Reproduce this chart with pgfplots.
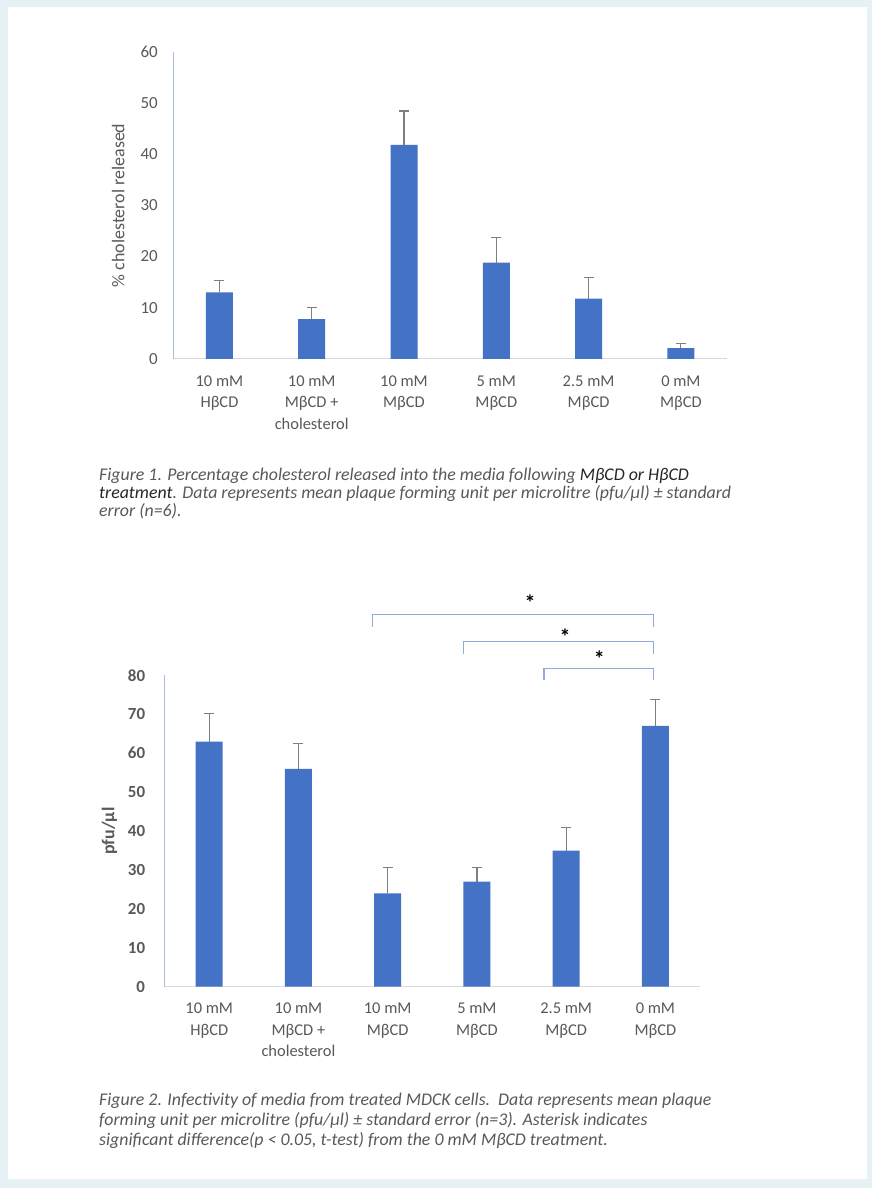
\documentclass[border=0pt]{standalone}
\usepackage{fontspec}
\setmainfont{Carlito}
\usepackage{pgfplots}
\pgfplotsset{compat=1.18}
\definecolor{bgblue}{HTML}{E6F1F5}
\definecolor{barblue}{HTML}{4472C4}
\definecolor{txtgray}{HTML}{595959}
\definecolor{errgray}{HTML}{7F7F7F}
\definecolor{yaxis}{HTML}{A9BCDD}
\definecolor{xaxis}{HTML}{D9D9D9}
\definecolor{brk}{HTML}{8FAADC}
\definecolor{capgray}{HTML}{595959}
\definecolor{capdark}{HTML}{262626}

\pgfplotsset{mybar/.style={
  scale only axis, anchor=south west,
  xmin=-0.5, xmax=5.5, ymin=0,
  axis lines*=left,
  x axis line style={draw=xaxis, line width=1bp},
  y axis line style={draw=yaxis, line width=1bp},
  major tick length=0pt,
  ybar, bar width=27bp,
  xtick={0,...,5},
  xticklabels={{10 mM\\HβCD},{10 mM\\MβCD +\\cholesterol},{10 mM\\MβCD},{5 mM\\MβCD},{2.5 mM\\MβCD},{0 mM\\MβCD}},
  xticklabel style={align=center, font=\fontsize{16.5}{21.5}\selectfont, text=txtgray, yshift=-13bp},
  yticklabel style={font=\fontsize{17}{19}\selectfont, text=txtgray, xshift=-12bp},
  /pgf/number format/assume math mode=true,
  ylabel style={at={(axis description cs:0,0.5)}, anchor=center, yshift=55bp, font=\fontsize{18}{20}\selectfont, text=txtgray},
  clip=false,
  enlargelimits=false,
}}

\pgfplotstableread{
x y e
0 13.0 2.3
1 7.8 2.3
2 41.8 6.6
3 18.8 4.9
4 11.8 4.1
5 2.1 1.0
}\cholesterol

\pgfplotstableread{
x y e
0 63.0 7.3
1 56.0 6.5
2 24.0 6.6
3 27.0 3.6
4 35.0 5.9
5 67.0 6.9
}\pfu

\begin{document}
\begin{tikzpicture}[x=1bp,y=1bp]
\useasboundingbox (0,0) rectangle (872,1188);
\fill[bgblue] (0,0) rectangle (872,1188);
\fill[white] (8,9) rectangle (866.7,1181);

% Figure 1
\begin{axis}[mybar,
  at={(173.3bp,829bp)},
  width=553.7bp, height=307.3bp,
  ymax=60, ytick={0,10,...,60},
  ylabel={\% cholesterol released},
]
\addplot[fill=barblue, draw=none,
  error bars/.cd, y dir=plus, y explicit,
  error bar style={draw=errgray, line width=1.2bp},
  error mark options={rotate=90, mark size=5bp, draw=errgray, line width=1.2bp}]
  table[x=x, y=y, y error=e] {\cholesterol};
\end{axis}

\node[anchor=base west, inner sep=0, font=\fontsize{17.9}{18}\selectfont\itshape, text=capgray] at (99,707)
  {Figure 1. Percentage cholesterol released into the media following \textcolor{capdark}{MβCD or HβCD}};
\node[anchor=base west, inner sep=0, font=\fontsize{17.9}{18}\selectfont\itshape, text=capgray] at (99,689)
  {\textcolor{capdark}{treatment}. Data represents mean plaque forming unit per microlitre (pfu/µl) ± standard};
\node[anchor=base west, inner sep=0, font=\fontsize{17.9}{18}\selectfont\itshape, text=capgray] at (99,671)
  {error (n=6).};

% Figure 2
\begin{axis}[mybar,
  at={(164.6bp,201.3bp)},
  width=535.4bp, height=311.3bp,
  ymax=80, ytick={0,10,...,80},
  yticklabel style={font=\fontsize{17}{19}\selectfont\bfseries, xshift=-4bp},
  ylabel={\textbf{pfu/µl}},
]
\addplot[fill=barblue, draw=none,
  error bars/.cd, y dir=plus, y explicit,
  error bar style={draw=errgray, line width=1.2bp},
  error mark options={rotate=90, mark size=5bp, draw=errgray, line width=1.2bp}]
  table[x=x, y=y, y error=e] {\pfu};
\draw[brk, line width=1.2bp] (axis cs:1.832,92.5) -- (axis cs:1.832,95.7) -- (axis cs:4.977,95.7) -- (axis cs:4.977,92.5);
\draw[brk, line width=1.2bp] (axis cs:2.848,85.5) -- (axis cs:2.848,88.7) -- (axis cs:4.977,88.7) -- (axis cs:4.977,85.5);
\draw[brk, line width=1.2bp] (axis cs:3.752,78.8) -- (axis cs:3.752,81.8) -- (axis cs:4.977,81.8) -- (axis cs:4.977,78.8);
\node[font=\fontsize{22}{22}\selectfont\bfseries, inner sep=0, anchor=base] at (axis cs:3.595,96.6) {*};
\node[font=\fontsize{22}{22}\selectfont\bfseries, inner sep=0, anchor=base] at (axis cs:3.988,88.0) {*};
\node[font=\fontsize{22}{22}\selectfont\bfseries, inner sep=0, anchor=base] at (axis cs:4.372,82.2) {*};
\end{axis}

\node[anchor=base west, inner sep=0, font=\fontsize{17.9}{18}\selectfont\itshape, text=capgray] at (99,82)
  {Figure 2. Infectivity of media from treated MDCK cells.\ \ Data represents mean plaque};
\node[anchor=base west, inner sep=0, font=\fontsize{17.9}{18}\selectfont\itshape, text=capgray] at (99,62)
  {forming unit per microlitre (pfu/µl) ± standard error (n=3). Asterisk indicates};
\node[anchor=base west, inner sep=0, font=\fontsize{17.9}{18}\selectfont\itshape, text=capgray] at (99,42)
  {significant difference(p < 0.05, t-test) from the 0 mM MβCD treatment.};
\end{tikzpicture}
\end{document}
